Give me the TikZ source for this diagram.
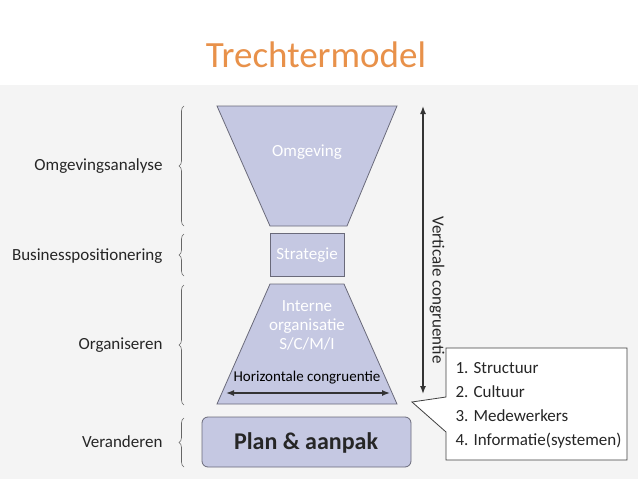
\documentclass[tikz,border=0pt]{standalone}
\usepackage{fontspec}
\setmainfont{Carlito}
\usetikzlibrary{decorations.pathreplacing,arrows.meta}
\definecolor{fillc}{HTML}{C5C8E2}
\definecolor{edgec}{HTML}{6A6A7A}
\definecolor{titlec}{HTML}{E8914A}
\definecolor{bgc}{HTML}{F4F4F4}
\tikzset{
  shapec/.style={fill=fillc,draw=edgec,line width=0.8pt},
  intext/.style={text=white,font=\fontsize{17}{19}\selectfont,align=center},
  lab/.style={anchor=east,font=\fontsize{17}{19}\selectfont,text=black!85},
  brc/.style={decorate,decoration={brace,mirror,amplitude=5pt},draw=black!60,line width=0.6pt},
  dblarrow/.style={{Latex[length=8pt,width=6pt]}-{Latex[length=8pt,width=6pt]},line width=1.4pt,draw=black!80}
}
\begin{document}
\begin{tikzpicture}[x=1pt,y=-1pt]
\useasboundingbox (0,0) rectangle (638,479);
\fill[white] (0,0) rectangle (638,479);
\fill[bgc] (0,85) rectangle (638,479);
\node[text=titlec,font=\fontsize{37}{40}\selectfont] (title) at (316,55) {Trechtermodel};
% shapes
\draw[shapec] (217,106) -- (397,106) -- (347,226) -- (270,226) -- cycle;
\node[intext] (omg) at (307,152) {Omgeving};
\draw[shapec] (270,233) rectangle (344,276);
\node[intext] (str) at (307,255) {Strategie};
\draw[shapec] (270,284) -- (344,284) -- (397,404) -- (217,404) -- cycle;
\node[intext] (int) at (307,325) {Interne\\organisatie\\S/C/M/I};
\node[font=\fontsize{15}{17}\selectfont] (hor) at (307,378) {Horizontale congruentie};
\coordinate (hl) at (226,393);
\coordinate (hr) at (390,393);
\draw[dblarrow] (hl) -- (hr);
\draw[shapec,rounded corners=6pt] (202,417) rectangle (411,467);
\node[font=\bfseries\fontsize{24}{27}\selectfont,text=black!85] (plan) at (306,443) {Plan \& aanpak};
% vertical arrow
\coordinate (vt) at (423,106);
\coordinate (vb) at (423,394);
\draw[dblarrow] (vt) -- (vb);
\node[rotate=-90,font=\fontsize{17}{19}\selectfont,text=black!85] (vert) at (437,290) {Verticale congruentie};
% braces and labels
\draw[brc] (184,106) -- (184,226);
\node[lab] (l1) at (166,166) {Omgevingsanalyse};
\draw[brc] (184,234) -- (184,276);
\node[lab] (l2) at (166,256) {Businesspositionering};
\draw[brc] (184,285) -- (184,405);
\node[lab] (l3) at (166,345) {Organiseren};
\draw[brc] (184,418) -- (184,467);
\node[lab] (l4) at (166,442) {Veranderen};
% callout
\draw[fill=white,draw=black!75,line width=0.8pt] (446,348) -- (627,348) -- (627,460) -- (446,460) -- (446,432) -- (412,402) -- (446,397) -- cycle;
\node[anchor=north west,align=left,font=\fontsize{17}{24}\selectfont,text=black!85] (list) at (452,359) {1. Structuur\\2. Cultuur\\3. Medewerkers\\4. Informatie(systemen)};
\end{tikzpicture}
\end{document}
